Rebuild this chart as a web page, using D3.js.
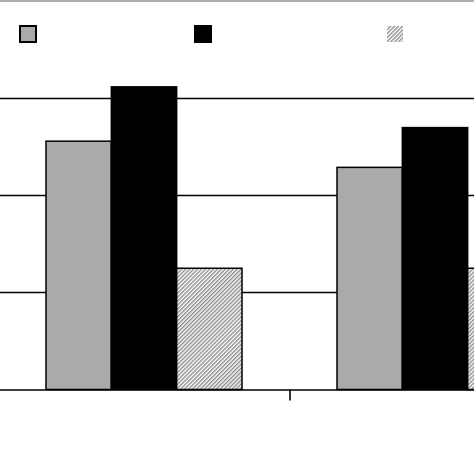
<!DOCTYPE html>
<html>
<head>
<meta charset="utf-8">
<script src="https://cdn.jsdelivr.net/npm/d3@7"></script>
<style>
  html, body { margin: 0; padding: 0; background: #fff; }
  svg { display: block; }
</style>
</head>
<body>
<svg width="474" height="474"></svg>
<script>
const groups = ["G1", "G2", "G3"];
const series = ["gray", "black", "hatched"];
const grayValues = [2.56, 2.29];
const blackValues = [3.12, 2.70];
const hatchedValues = [1.25, 1.25];
const gridTicks = [1, 2, 3];

const rows = groups.slice(0, 2).map((g, i) => ({
    group: g,
    gray: grayValues[i],
    black: blackValues[i],
    hatched: hatchedValues[i]
}));

const chart = () => {
    const width = 474;

    const svg = d3.select("svg");

    // hatch pattern
    const defs = svg.append("defs");
    const pat = defs.append("pattern")
        .attr("id", "hatch")
        .attr("patternUnits", "userSpaceOnUse")
        .attr("width", 2.8)
        .attr("height", 2.8)
        .attr("patternTransform", "rotate(45)");
    pat.append("rect").attr("width", 2.8).attr("height", 2.8).attr("fill", "#fff");
    pat.append("line")
        .attr("x1", 0.7).attr("y1", 0).attr("x2", 0.7).attr("y2", 2.8)
        .attr("stroke", "#8c8c8c")
        .attr("stroke-width", 1.4);

    const fills = { gray: "#aaaaaa", black: "#000000", hatched: "url(#hatch)" };

    // scales
    const x0 = d3.scaleBand()
        .domain(groups.slice(0, 2))
        .range([-1.5, 580.5]);

    const x1 = d3.scaleBand()
        .domain(series)
        .range([47.5, 243.5]);

    const xEdge = d3.scaleLinear()
        .domain([0, 2])
        .range([-1.5, 580.5]);

    const y = d3.scaleLinear()
        .domain([0, 3])
        .range([389.5, 98.5]);

    // top border line
    svg.append("rect")
        .attr("x", 0).attr("y", 0)
        .attr("width", width).attr("height", 2)
        .attr("fill", "#b0b0b0");

    // grid lines
    svg.append("g")
        .selectAll("line")
        .data(gridTicks)
        .enter().append("line")
        .attr("x1", 0)
        .attr("x2", width)
        .attr("y1", d => y(d))
        .attr("y2", d => y(d))
        .attr("stroke", "#000")
        .attr("stroke-width", 1.5);

    // bars
    svg.append("g")
        .selectAll("g")
        .data(rows)
        .enter().append("g")
        .attr("transform", d => `translate(${x0(d.group)},0)`)
        .selectAll("rect")
        .data(d => series.map(k => ({ key: k, value: d[k] })))
        .enter().append("rect")
        .attr("x", d => x1(d.key))
        .attr("y", d => y(d.value))
        .attr("width", x1.bandwidth())
        .attr("height", d => y(0) - y(d.value))
        .attr("fill", d => fills[d.key])
        .attr("stroke", "#000")
        .attr("stroke-width", 1.5);

    // x axis
    svg.append("g")
        .attr("transform", `translate(0,${y(0)})`)
        .call(d3.axisBottom(xEdge).tickValues([0, 1, 2]).tickFormat("").tickSize(11).tickSizeOuter(0))
        .call(g => g.selectAll("path, line").attr("stroke", "#000").attr("stroke-width", 1.6));

    // legend
    const legendX = [20, 195, 387];
    svg.append("g")
        .selectAll("rect")
        .data(series)
        .enter().append("rect")
        .attr("x", (d, i) => legendX[i])
        .attr("y", 26)
        .attr("width", 16)
        .attr("height", 16)
        .attr("fill", d => fills[d])
        .attr("stroke", d => d === "hatched" ? "none" : "#000")
        .attr("stroke-width", 2);
};

chart();
</script>
</body>
</html>
